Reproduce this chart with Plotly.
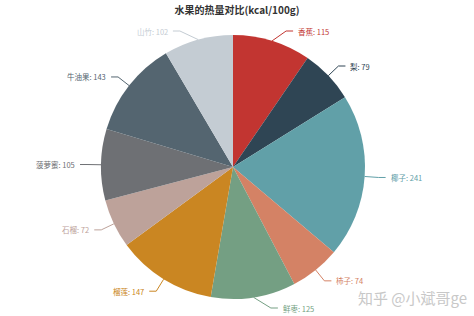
import math
import plotly.graph_objects as go

fruits = ["香蕉", "梨", "椰子", "柿子", "鲜枣", "榴莲", "石榴", "菠萝蜜", "牛油果", "山竹"]
calories = [115, 79, 241, 74, 125, 147, 72, 105, 143, 102]
colors = ["#c23531", "#2f4554", "#61a0a8", "#d48265", "#749f83",
          "#ca8622", "#bda29a", "#6e7074", "#546570", "#c4ccd3"]
title_text = "水果的热量对比(kcal/100g)"
watermark = "知乎 @小斌哥ge"

W, H = 474, 316
ML, MR, MT, MB = 0, 8, 35, 17
PW, PH = W - ML - MR, H - MT - MB
CX, CY = ML + PW / 2, MT + PH / 2
R = min(PW, PH) / 2
FONT = "Noto Sans CJK SC, Noto Sans, sans-serif"


def px(x):
    return (x - ML) / PW


def py(y):
    return 1 - (y - MT) / PH


fig = go.Figure(go.Pie(
    labels=fruits, values=calories, sort=False, direction="clockwise",
    rotation=0, marker=dict(colors=colors, line=dict(width=0)),
    textinfo="none", hoverinfo="label+value", showlegend=False,
    domain=dict(x=[0, 1], y=[0, 1]),
))

total = sum(calories)
cum = 0
shapes, annots = [], []
L1, L2, GAP = 14, 7, 3
for name, v, c in zip(fruits, calories, colors):
    mid = (cum + v / 2) / total * 2 * math.pi
    cum += v
    dx, dy = math.sin(mid), -math.cos(mid)
    x0, y0 = CX + R * dx, CY + R * dy
    rr = R + L1
    y1 = CY + rr * dy
    y1 = max(31, min(308, y1))
    side = 1 if dx >= 0 else -1
    x1 = CX + side * math.sqrt(max(rr ** 2 - (y1 - CY) ** 2, 0))
    x2 = x1 + side * L2
    shapes.append(dict(type="path", xref="paper", yref="paper",
                       path=f"M {px(x0)} {py(y0)} L {px(x1)} {py(y1)} L {px(x2)} {py(y1)}",
                       line=dict(color=c, width=1)))
    annots.append(dict(x=px(x2 + side * GAP), y=py(y1), xref="paper", yref="paper",
                       text=f"{name}: {v}", showarrow=False,
                       xanchor="left" if side > 0 else "right", yanchor="middle",
                       font=dict(size=7.5, color=c, family=FONT)))

annots.append(dict(x=px(356), y=py(297), xref="paper", yref="paper",
                   text=watermark, showarrow=False, xanchor="left", yanchor="middle",
                   font=dict(size=15, color="#c8c8c8", family=FONT)))

fig.update_layout(
    width=W, height=H, margin=dict(l=ML, r=MR, t=MT, b=MB),
    paper_bgcolor="white", plot_bgcolor="white",
    title=dict(text=f"<b>{title_text}</b>", x=0.5, xref="container", xanchor="center",
               y=1 - 10 / H, yref="container", yanchor="middle",
               font=dict(size=10, color="#333", family=FONT)),
    shapes=shapes, annotations=annots,
)
fig.write_html("out.html")
